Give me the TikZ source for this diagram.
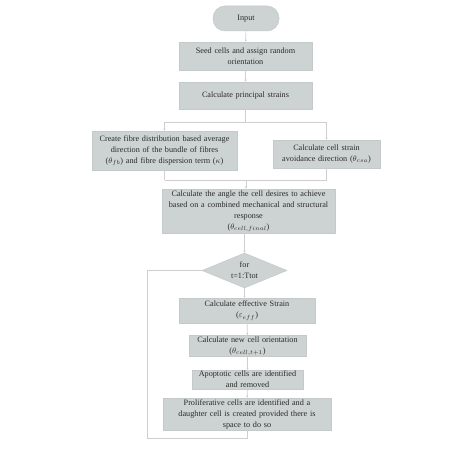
\documentclass[tikz,border=0pt]{standalone}
\usepackage{fontspec}
\setmainfont{Liberation Serif}
\usetikzlibrary{shapes.geometric,arrows.meta}
\definecolor{boxfill}{HTML}{CDD3D3}
\definecolor{boxline}{HTML}{C4CACA}
\definecolor{conn}{HTML}{CFCFCF}
\definecolor{txt}{HTML}{2B2B2B}
\tikzset{
  boxbase/.style={draw=boxline, fill=boxfill, line width=0.5pt, text=txt, align=center, inner sep=1pt,
    font=\fontsize{8.2}{11}\selectfont},
  procbox/.style={boxbase, rectangle},
  startbox/.style={boxbase, rectangle, rounded corners=12pt},
  decbox/.style={boxbase, diamond, aspect=2.43, inner sep=0pt},
  conline/.style={draw=conn, line width=0.6pt},
  conarrow/.style={conline, -{Triangle[length=2pt,width=2pt]}},
}
\begin{document}
\begin{tikzpicture}[x=1pt,y=-1pt]
\useasboundingbox (0,0) rectangle (474,449);
\fill[white] (0,0) rectangle (474,449);

\node[startbox, minimum width=66pt, minimum height=25pt] (input) at (246,18.5) {Input};
\node[procbox, minimum width=133pt, minimum height=28pt, text width=130pt] (seed) at (245.5,56) {Seed cells and assign random\\orientation};
\node[procbox, minimum width=133pt, minimum height=27pt, text width=130pt] (princ) at (245.5,95.5) {Calculate principal strains};
\node[procbox, minimum width=145pt, minimum height=39pt, text width=143pt] (fibre) at (164.5,150.5) {Create fibre distribution based average\\direction of the bundle of fibres\\($\theta_{fb}$) and fibre dispersion term ($\kappa$)};
\node[procbox, minimum width=107pt, minimum height=28pt, text width=105pt] (avoid) at (326.5,154) {Calculate cell strain\\avoidance direction ($\theta_{csa}$)};
\node[procbox, minimum width=173pt, minimum height=44pt, text width=171pt] (angle) at (248.5,211) {Calculate the angle the cell desires to achieve\\based on a combined mechanical and structural\\response\\($\theta_{cell,final}$)};
\node[decbox, minimum width=85pt, minimum height=35pt] (loop) at (244.5,270.5) {for\\t=1:Ttot};
\node[procbox, minimum width=136pt, minimum height=25pt, text width=134pt] (eff) at (247,310.5) {Calculate effective Strain\\($\varepsilon_{eff}$)};
\node[procbox, minimum width=117pt, minimum height=20pt, text width=115pt] (neworient) at (247.5,346) {Calculate new cell orientation\\($\theta_{cell,t+1}$)};
\node[procbox, minimum width=111pt, minimum height=19pt, text width=109pt] (apop) at (247.5,379.5) {Apoptotic cells are identified\\and removed};
\node[procbox, minimum width=168pt, minimum height=32pt, text width=166pt] (prolif) at (247,414) {Proliferative cells are identified and a\\daughter cell is created provided there is\\space to do so};

\coordinate (split) at (245.5,122);
\coordinate (splitL) at (164.5,122);
\coordinate (splitR) at (326.5,122);
\coordinate (merge) at (246,180);
\coordinate (mergeL) at (164.5,180);
\coordinate (mergeR) at (326.5,180);
\coordinate (loopBR) at (247,438);
\coordinate (loopBL) at (147,438);
\coordinate (loopTL) at (147,270.5);

\draw[conarrow] (input) -- (seed);
\draw[conarrow] (seed) -- (princ);
\draw[conline] (princ) -- (split);
\draw[conline] (splitL) -- (splitR);
\draw[conarrow] (splitL) -- (fibre);
\draw[conarrow] (splitR) -- (avoid);
\draw[conline] (fibre) -- (mergeL);
\draw[conline] (avoid) -- (mergeR);
\draw[conline] (mergeL) -- (mergeR);
\draw[conarrow] (merge) -- (angle.north -| merge);
\draw[conarrow] (angle.south -| loop) -- (loop);
\draw[conarrow] (loop) -- (eff.north -| loop);
\draw[conarrow] (eff) -- (neworient);
\draw[conarrow] (neworient) -- (apop);
\draw[conarrow] (apop) -- (prolif);
\draw[conline] (prolif.south) -- (loopBR) -- (loopBL) -- (loopTL) -- (loop.west);
\end{tikzpicture}
\end{document}
